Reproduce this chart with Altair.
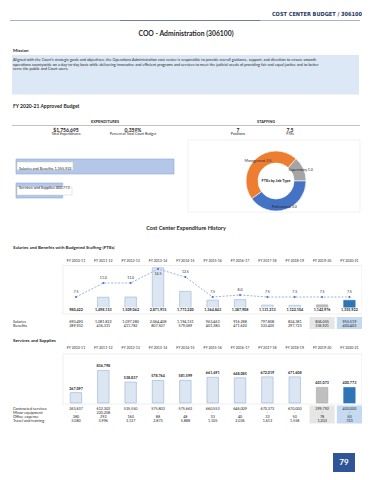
import math
import altair as alt
import pandas as pd

# ---------------- data ----------------
YEARS = ["FY 2010-11", "FY 2011-12", "FY 2012-13", "FY 2013-14", "FY 2014-15", "FY 2015-16",
         "FY 2016-17", "FY 2017-18", "FY 2018-19", "FY 2019-20", "FY 2020-21"]
HIGHLIGHT = ["hist"] * 9 + ["prev", "cur"]

SALARIES = [690490, 1081822, 1097280, 2064408, 1194151, 963463, 916288, 797808, 824381, 806055, 955519]
BENEFITS = [289932, 416331, 411782, 807507, 579069, 401380, 471620, 333405, 297723, 336921, 400403]
FTES = [7.5, 11.0, 11.0, 14.5, 12.5, 7.5, 8.0, 7.5, 7.5, 7.5, 7.5]

CONTRACTED = [263637, 612302, 535550, 575803, 575663, 660553, 646009, 670373, 670000, 399792, 400000]
MINOR_EQUIP = [0, 220208, 0, 0, 0, 0, 0, 0, 0, 0, 0]
OFFICE = [380, 292, 160, 88, 48, 33, 40, 33, 50, 78, 50]
TRAVEL = [3080, 3996, 3127, 2873, 5888, 1105, 2036, 1613, 1558, 1203, 723]

BUDGET_CATS = ["Salaries and Benefits", "Services and Supplies"]
BUDGET_VALS = [1355922, 400773]

JOB_TYPES = ["Supervisory", "Professional", "Management"]
JOB_FTES = [1.0, 3.0, 3.5]

# ---------------- derived tables ----------------
fmt = lambda v: "-" if v == 0 else f"{v:,.0f}"
hist = pd.DataFrame({"year": YEARS, "hl": HIGHLIGHT, "sal": SALARIES, "ben": BENEFITS, "fte": FTES,
                     "con": CONTRACTED, "meq": MINOR_EQUIP, "off": OFFICE, "trv": TRAVEL})
hist["sb"] = hist.sal + hist.ben
hist["ss"] = hist.con + hist.meq + hist.off + hist.trv
for c in ["sal", "ben", "sb", "ss", "con", "meq", "off", "trv"]:
    hist[c + "_t"] = hist[c].map(fmt)
hist["fte_t"] = hist.fte.map(lambda v: f"{v:.1f}")

budget = pd.DataFrame({"cat": BUDGET_CATS, "val": BUDGET_VALS})
budget["label"] = [f"{c} {v:,}" for c, v in zip(BUDGET_CATS, BUDGET_VALS)]

donut = pd.DataFrame({"job": JOB_TYPES, "fte": JOB_FTES, "idx": range(len(JOB_TYPES))})
donut["label"] = [f"{j} {v:.1f}" for j, v in zip(JOB_TYPES, JOB_FTES)]

ONE = pd.DataFrame({"k": [0]})

# ---------------- helpers (layout) ----------------
FONT = "Lato"
DARK = "#262626"


def P(v):
    return v - 8


def text(t, x, y, size=4.5, weight="normal", align="left", color=DARK, font=FONT):
    return alt.Chart(ONE).mark_text(align=align, baseline="middle", fontSize=size, fontWeight=weight,
                                    color=color, font=font).encode(
        x=alt.value(P(x)), y=alt.value(P(y)), text=alt.value(t))


def rect(x1, y1, x2, y2, fill, stroke=None, sw=0.5):
    kw = dict(fill=fill)
    if stroke:
        kw.update(stroke=stroke, strokeWidth=sw)
    return alt.Chart(ONE).mark_rect(**kw).encode(
        x=alt.value(P(x1)), x2=alt.value(P(x2)), y=alt.value(P(y1)), y2=alt.value(P(y2)))


def hline(x1, x2, y, color, w=0.6):
    return alt.Chart(ONE).mark_rule(color=color, strokeWidth=w).encode(
        x=alt.value(P(x1)), x2=alt.value(P(x2)), y=alt.value(P(y)))


XR = [P(62.3), P(363.1)]


def xyear(pi=0.0, center=False):
    kw = {"bandPosition": 0.5} if center else {}
    return alt.X("year:N", scale=alt.Scale(type="band", domain=YEARS, range=XR,
                                           paddingInner=pi, paddingOuter=pi / 2),
                 axis=None, **kw)


def year_row(col, y, size=3.7, weight="normal", data=hist):
    return alt.Chart(data).mark_text(fontSize=size, fontWeight=weight, font=FONT, color=DARK,
                                     baseline="middle").encode(
        x=xyear(center=True), y=alt.value(P(y)), text=alt.Text(f"{col}:N"))


HL_FILL = alt.Scale(domain=["hist", "prev", "cur"], range=["#dce6f2", "#bfbfbf", "#2e75b6"])
HL_STROKE = alt.Scale(domain=["hist", "prev", "cur"], range=["#95b3d7", "#a6a6a6", "#2e75b6"])
HL_SHADE = alt.Scale(domain=["prev", "cur"], range=["#e7e6e6", "#c5d9f1"])

layers = []

# ---------------- header ----------------
layers += [
    text("COST CENTER BUDGET / 306100", 362, 14, size=5.6, weight="bold", align="right",
         color="#1f3864", font="DejaVu Sans Condensed"),
    hline(10, 360, 20.5, "#a7b3c6", 1.2),
    hline(120, 260, 20.5, "#6f7f99", 1.2),
    text("COO - Administration (306100)", 186, 34, size=6.8, weight="bold", align="center"),
    text("Mission", 13, 51, size=4.5, weight="bold"),
    rect(12, 55, 359, 94.5, "#dde8f6"),
    text("Aligned with the Court's strategic goals and objectives, the Operations Administration cost center is "
         "responsible to provide overall guidance, support, and direction to ensure smooth", 13, 60, size=3.85),
    text("operations countywide on a day-to-day basis while delivering innovative and efficient programs and "
         "services to meet the judicial needs of providing fair and equal justice and to better", 13, 64.5, size=3.85),
    text("serve the public and Court users.", 13, 69, size=3.85),
]

# ---------------- approved budget ----------------
layers += [
    text("FY 2020-21 Approved Budget", 13, 106, size=5, weight="bold"),
    text("EXPENDITURES", 105, 122, size=3.8, weight="bold", align="center"),
    text("STAFFING", 266, 122, size=3.8, weight="bold", align="center"),
    hline(12, 360, 125.5, "#9a9a9a", 0.6),
    text("$1,756,695", 66, 129.5, size=5, weight="bold", align="center"),
    text("Total Expenditures", 66, 134, size=3.6, align="center"),
    text("0.359%", 133, 129.5, size=5, weight="bold", align="center"),
    text("Percent of Total Court Budget", 133, 134, size=3.6, align="center"),
    text("7", 238, 129.5, size=5, weight="bold", align="center"),
    text("Positions", 238, 134, size=3.6, align="center"),
    text("7.5", 290, 129.5, size=5, weight="bold", align="center"),
    text("FTEs", 290, 134, size=3.6, align="center"),
    rect(188, 140, 360, 212, "white", "#e8e8e8", 0.6),
]

# horizontal budget bars
BY = alt.Scale(domain=BUDGET_CATS, range=[P(159), P(198)], paddingInner=0.375, paddingOuter=0)
layers.append(
    alt.Chart(budget).mark_bar(color="#b4c7e7", stroke="#8faadc", strokeWidth=0.6).encode(
        x=alt.X("val:Q", scale=alt.Scale(domain=[0, BUDGET_VALS[0]], range=[P(16), P(174)]), axis=None),
        y=alt.Y("cat:N", scale=BY, axis=None),
    )
)
layers += [rect(17, 162, 73, 170, "white", "#bfbfbf", 0.4), rect(17, 187, 72, 195, "white", "#bfbfbf", 0.4)]
layers.append(
    alt.Chart(budget).mark_text(align="left", baseline="middle", fontSize=3.8, font=FONT, color=DARK, dx=2).encode(
        x=alt.value(P(17)),
        y=alt.Y("cat:N", scale=BY, axis=None, bandPosition=0.5),
        text="label:N",
    )
)

# donut
START = math.radians(42)
theta = alt.Theta("fte:Q", stack=True, scale=alt.Scale(range=[START, START + 2 * math.pi]))
layers.append(
    alt.Chart(donut).mark_arc(innerRadius=18, outerRadius=30, stroke="white", strokeWidth=0.6).encode(
        theta=theta,
        color=alt.Color("job:N", scale=alt.Scale(domain=JOB_TYPES, range=["#a5a5a5", "#4472c4", "#ed7d31"]),
                        legend=None),
        order=alt.Order("idx:Q"),
        x=alt.value(P(276)), y=alt.value(P(181)),
    )
)
layers.append(
    alt.Chart(donut).mark_text(radius=27, fontSize=3.6, font=FONT, color=DARK).encode(
        theta=theta, order=alt.Order("idx:Q"), text="label:N",
        x=alt.value(P(276)), y=alt.value(P(181)),
    )
)
layers.append(text("FTEs by Job Type", 276, 181, size=3.8, weight="bold", align="center"))

# ---------------- history ----------------
layers += [
    text("Cost Center Expenditure History", 186, 228, size=5.5, weight="bold", align="center"),
    text("Salaries and Benefits with Budgeted Staffing (FTEs)", 13, 248, size=4.5, weight="bold"),
    year_row("year", 261, size=3.5),
    rect(63, 265.5, 362, 314, "white", "#e3e3e3", 0.6),
]

shade = alt.Chart(hist).transform_filter("datum.hl != 'hist'")
layers.append(shade.mark_rect().encode(
    x=xyear(pi=0.08), y=alt.value(P(317)), y2=alt.value(P(329)),
    color=alt.Color("hl:N", scale=HL_SHADE, legend=None)))

SB_Y = alt.Scale(domain=[950000, 3000000], range=[P(309), P(265)], zero=False, clamp=True)
layers.append(alt.Chart(hist).mark_bar(width=alt.RelativeBandSize(0.42), strokeWidth=0.6).encode(
    x=xyear(), y=alt.Y("sb:Q", scale=SB_Y, axis=None), y2=alt.datum(950000),
    color=alt.Color("hl:N", scale=HL_FILL, legend=None),
    stroke=alt.Stroke("hl:N", scale=HL_STROKE, legend=None)))

layers.append(alt.Chart(hist).mark_rect(fill="white").encode(
    x=xyear(pi=0.12), y=alt.value(P(307.5)), y2=alt.value(P(312.5))))
layers.append(year_row("sb_t", 310, size=3.7, weight="bold"))

FTE_Y = alt.Scale(domain=[5, 15], range=[P(307), P(267)], zero=False)
layers.append(alt.Chart(hist).mark_line(strokeDash=[2, 1.5], color="#8faadc", strokeWidth=0.9).encode(
    x=xyear(center=True), y=alt.Y("fte:Q", scale=FTE_Y, axis=None)))
layers.append(alt.Chart(hist).mark_point(shape="diamond", filled=True, size=7, color="#4472c4", opacity=1).encode(
    x=xyear(center=True), y=alt.Y("fte:Q", scale=FTE_Y, axis=None)))
layers.append(alt.Chart(hist).transform_filter("datum.fte < 14").mark_text(
    fontSize=3.5, font=FONT, color=DARK, dy=-5).encode(
    x=xyear(center=True), y=alt.Y("fte:Q", scale=FTE_Y, axis=None), text="fte_t:N"))
layers.append(alt.Chart(hist).transform_filter("datum.fte >= 14").mark_text(
    fontSize=3.5, font=FONT, color=DARK, dy=5).encode(
    x=xyear(center=True), y=alt.Y("fte:Q", scale=FTE_Y, axis=None), text="fte_t:N"))

layers += [
    text("Salaries", 13, 321.5, size=3.9),
    text("Benefits", 13, 326, size=3.9),
    year_row("sal_t", 321.5),
    year_row("ben_t", 326),
]

# services and supplies
layers += [
    text("Services and Supplies", 13, 341, size=4.5, weight="bold"),
    year_row("year", 348, size=3.5),
    rect(63, 354, 362, 404, "white", "#e3e3e3", 0.6),
]
layers.append(shade.mark_rect().encode(
    x=xyear(pi=0.08), y=alt.value(P(405.5)), y2=alt.value(P(423.5)),
    color=alt.Color("hl:N", scale=HL_SHADE, legend=None)))

SS_Y = alt.Scale(domain=[0, 900000], range=[P(403), P(368)])
layers.append(alt.Chart(hist).mark_bar(width=alt.RelativeBandSize(0.42), strokeWidth=0.6).encode(
    x=xyear(), y=alt.Y("ss:Q", scale=SS_Y, axis=None),
    color=alt.Color("hl:N", scale=HL_FILL, legend=None),
    stroke=alt.Stroke("hl:N", scale=HL_STROKE, legend=None)))
layers.append(alt.Chart(hist).mark_text(fontSize=3.7, fontWeight="bold", font=FONT, color=DARK, dy=-4).encode(
    x=xyear(center=True), y=alt.Y("ss:Q", scale=SS_Y, axis=None), text="ss_t:N"))

layers += [
    text("Contracted services", 13, 409, size=3.9),
    text("Minor equipment", 13, 413, size=3.9),
    text("Office expense", 13, 417, size=3.9),
    text("Travel and training", 13, 421, size=3.9),
    year_row("con_t", 409),
    year_row("meq_t", 413),
    year_row("off_t", 417),
    year_row("trv_t", 421),
]

# page number
layers += [
    rect(333, 453, 355, 472, "#2f5597"),
    text("79", 344, 463, size=8, weight="bold", align="center", color="white"),
]

chart = alt.layer(*layers).resolve_scale(
    x="independent", y="independent", color="independent", stroke="independent", theta="independent"
).properties(width=354, height=464, autosize="none", padding=0, background="white").configure_view(stroke=None)

chart.save("out.html", embed_options={"renderer": "svg", "actions": False})
